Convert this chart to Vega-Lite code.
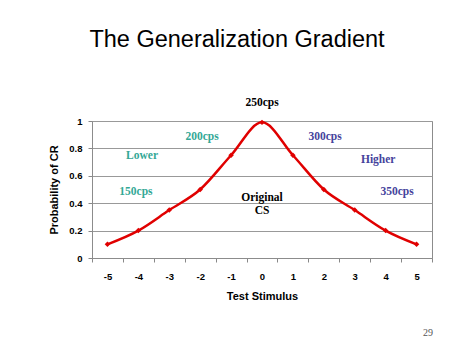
{
  "$schema": "https://vega.github.io/schema/vega-lite/v6.json",
  "autosize": {"type": "none"},
  "padding": {"left": 92, "top": 121, "right": 42, "bottom": 97},
  "width": 340,
  "height": 137,
  "background": "white",
  "config": {
    "view": {"stroke": "#8c8c8c", "strokeWidth": 1},
    "font": "Liberation Sans"
  },
  "title": {
    "text": "The Generalization Gradient",
    "font": "Liberation Sans",
    "fontSize": 23.5,
    "fontWeight": "normal",
    "color": "#000000",
    "anchor": "middle",
    "frame": "group",
    "dx": -25,
    "offset": 46
  },
  "datasets": {
    "curve": [
      {"stimulus": -5, "p": 0.1},
      {"stimulus": -4, "p": 0.2},
      {"stimulus": -3, "p": 0.35},
      {"stimulus": -2, "p": 0.5},
      {"stimulus": -1, "p": 0.75},
      {"stimulus": 0, "p": 0.99},
      {"stimulus": 1, "p": 0.75},
      {"stimulus": 2, "p": 0.5},
      {"stimulus": 3, "p": 0.35},
      {"stimulus": 4, "p": 0.2},
      {"stimulus": 5, "p": 0.1}
    ],
    "notes": [
      {"label": "250cps", "stimulus": 0, "p": 1.13, "group": "neutral"},
      {"label": "200cps", "stimulus": -1.94, "p": 0.88, "group": "lower"},
      {"label": "Lower", "stimulus": -3.88, "p": 0.745, "group": "lower"},
      {"label": "150cps", "stimulus": -4.08, "p": 0.48, "group": "lower"},
      {"label": "300cps", "stimulus": 2.04, "p": 0.88, "group": "higher"},
      {"label": "Higher", "stimulus": 3.76, "p": 0.715, "group": "higher"},
      {"label": "350cps", "stimulus": 4.37, "p": 0.48, "group": "higher"},
      {"label": "Original", "stimulus": 0, "p": 0.44, "group": "neutral"},
      {"label": "CS", "stimulus": 0, "p": 0.34, "group": "neutral"}
    ],
    "page": [
      {"label": "29", "stimulus": 5.37, "p": -0.55}
    ]
  },
  "encoding": {
    "x": {
      "field": "stimulus",
      "type": "quantitative",
      "scale": {"domain": [-5.5, 5.5], "nice": false, "zero": false},
      "axis": {
        "title": "Test Stimulus",
        "titleFont": "Liberation Sans",
        "titleFontSize": 11,
        "titleFontWeight": "bold",
        "titleColor": "#000000",
        "titlePadding": 10,
        "values": [-5.5, -5, -4.5, -4, -3.5, -3, -2.5, -2, -1.5, -1, -0.5, 0, 0.5, 1, 1.5, 2, 2.5, 3, 3.5, 4, 4.5, 5, 5.5],
        "labelExpr": "datum.value % 1 == 0 ? '' + datum.value : ''",
        "tickOpacity": {"expr": "datum.value % 1 == 0 ? 0 : 1"},
        "tickSize": 4,
        "tickColor": "#888888",
        "labelPadding": 9,
        "labelFont": "Liberation Sans",
        "labelFontSize": 9.5,
        "labelFontWeight": "bold",
        "labelColor": "#000000",
        "labelOverlap": false,
        "labelFlush": false,
        "grid": false,
        "domainColor": "#8c8c8c"
      }
    },
    "y": {
      "field": "p",
      "type": "quantitative",
      "scale": {"domain": [0, 1], "nice": false},
      "axis": {
        "title": "Probability of CR",
        "titleFont": "Liberation Sans",
        "titleFontSize": 11,
        "titleFontWeight": "bold",
        "titleColor": "#000000",
        "titlePadding": 9,
        "values": [0, 0.2, 0.4, 0.6, 0.8, 1],
        "format": "~g",
        "tickSize": 4,
        "tickColor": "#888888",
        "labelPadding": 6,
        "labelFont": "Liberation Sans",
        "labelFontSize": 9.5,
        "labelFontWeight": "bold",
        "labelColor": "#000000",
        "labelOverlap": false,
        "grid": true,
        "gridColor": "#999999",
        "gridWidth": 1,
        "domainColor": "#8c8c8c"
      }
    }
  },
  "layer": [
    {
      "data": {"name": "curve"},
      "mark": {"type": "line", "interpolate": "monotone", "color": "#e00000", "strokeWidth": 2.5}
    },
    {
      "data": {"name": "curve"},
      "mark": {"type": "point", "shape": "diamond", "filled": true, "color": "#e00000", "size": 30, "opacity": 1}
    },
    {
      "data": {"name": "notes"},
      "mark": {"type": "text", "font": "Liberation Serif", "fontSize": 11.5, "fontWeight": "bold", "align": "center", "baseline": "middle"},
      "encoding": {
        "text": {"field": "label"},
        "color": {
          "field": "group",
          "type": "nominal",
          "scale": {"domain": ["lower", "higher", "neutral"], "range": ["#33a896", "#45439c", "#000000"]},
          "legend": null
        }
      }
    },
    {
      "data": {"name": "page"},
      "mark": {"type": "text", "font": "Liberation Serif", "fontSize": 10, "color": "#555555", "align": "center", "baseline": "middle"},
      "encoding": {
        "text": {"field": "label"}
      }
    }
  ]
}
